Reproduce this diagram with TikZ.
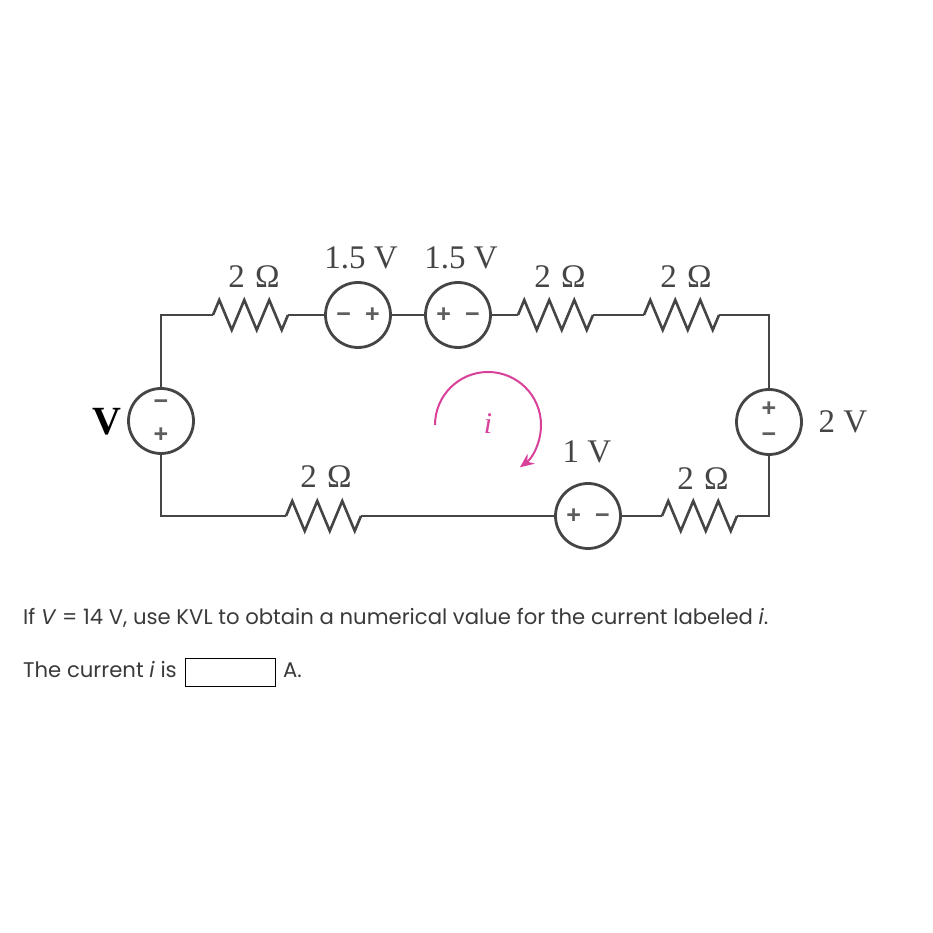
\documentclass[tikz,border=0pt]{standalone}
\usepackage{fontspec}
\setmainfont{Poppins}
\newfontfamily\cktfont{Liberation Serif}
\newfontfamily\signfont{Liberation Sans}
\usetikzlibrary{arrows.meta,decorations.pathmorphing,positioning}
\definecolor{wirecol}{HTML}{454545}
\definecolor{signcol}{HTML}{5E5E5E}
\definecolor{loopcol}{HTML}{D9409A}
\definecolor{textcol}{HTML}{3A3A3A}
\newcommand{\sgn}[1]{{\color{signcol}\signfont\bfseries\fontsize{25}{25}\selectfont #1}}
\begin{document}
\begin{tikzpicture}
    [x=1pt,y=1pt,
    source/.style={circle, draw=wirecol, line width=2.8pt, minimum size=65pt,
    inner sep=0pt, align=center, fill=white},
    wire/.style={draw=wirecol, line width=2.4pt},
    res/.style={draw=wirecol, line width=2.6pt, decorate,
    decoration={zigzag, segment length=25pt, amplitude=15pt}},
    val/.style={font=\cktfont\fontsize{33}{33}\selectfont, text=wirecol, inner sep=0pt},
    question/.style={font=\fontsize{21.2}{25}\selectfont, text=textcol, inner sep=0pt, anchor=base west}]

    \useasboundingbox (0,0) rectangle (933,933);

    % sources
    \node [source] (src_v) at (161,512) {\sgn{−}\\[18pt]\sgn{+}};
    \node [source] (src_a) at (358,618) {\sgn{−}\hspace{14pt}\sgn{+}};
    \node [source] (src_b) at (458,618) {\sgn{+}\hspace{14pt}\sgn{−}};
    \node [source] (src_c) at (588,417) {\sgn{+}\hspace{14pt}\sgn{−}};
    \node [source] (src_d) at (769,511) {\sgn{+}\\[14pt]\sgn{−}};

    % resistor ends
    \coordinate (res_a1) at (213,618);
    \coordinate (res_a2) at (288,618);
    \coordinate (res_b1) at (518,618);
    \coordinate (res_b2) at (593,618);
    \coordinate (res_c1) at (644,618);
    \coordinate (res_c2) at (719,618);
    \coordinate (res_d1) at (662,417);
    \coordinate (res_d2) at (737,417);
    \coordinate (res_e1) at (286,417);
    \coordinate (res_e2) at (361,417);

    \path [res] (res_a1) -- (res_a2);
    \path [res] (res_b1) -- (res_b2);
    \path [res] (res_c1) -- (res_c2);
    \path [res] (res_d1) -- (res_d2);
    \path [res] (res_e1) -- (res_e2);

    \begin{scope}[every path/.style=wire]
        \path (src_v.north) |- (res_a1);
        \path (res_a2) -- (src_a.west);
        \path (src_a.east) -- (src_b.west);
        \path (src_b.east) -- (res_b1);
        \path (res_b2) -- (res_c1);
        \path (res_c2) -| (src_d.north);
        \path (src_d.south) |- (res_d2);
        \path (res_d1) -- (src_c.east);
        \path (src_c.west) -- (res_e2);
        \path (res_e1) -| (src_v.south);
    \end{scope}

    % values
    \node [val] (val_a) at (254,656) {2 $\,$\kern-2pt Ω};
    \node [val] (val_b) at (361,675) {1.5 V};
    \node [val] (val_c) at (461,675) {1.5 V};
    \node [val] (val_d) at (560,656) {2 $\,$\kern-2pt Ω};
    \node [val] (val_e) at (686,656) {2 $\,$\kern-2pt Ω};
    \node [val] (val_f) at (326,456) {2 $\,$\kern-2pt Ω};
    \node [val] (val_g) at (587,481) {1 V};
    \node [val] (val_h) at (703,454) {2 $\,$\kern-2pt Ω};
    \node [val] (val_i) at (843,511) {2 V};
    \node [val, font=\cktfont\bfseries\fontsize{40}{40}\selectfont, text=black] (val_v) at (107,511) {V};

    % loop current
    \coordinate (loop_start) at (435,508);
    \draw [draw=loopcol, line width=2pt, -{Stealth[length=14pt,width=12pt]}]
        (loop_start) arc [start angle=180, end angle=-53, radius=53pt];
    \node [font=\cktfont\itshape\fontsize{30}{30}\selectfont, text=loopcol, inner sep=0pt] (loop_i) at (488,509) {i};

    % question
    \node [question] (q_line) at (23,308) {If \textit{V} = 14 V, use KVL to obtain a numerical value for the current labeled \textit{i}.};
    \node [question] (q_ans) at (23,255) {The current \textit{i} is};
    \node [draw=black, line width=1.2pt, minimum width=90pt, minimum height=28pt, inner sep=0pt,
        anchor=south west] (q_box) at (185,246) {};
    \node [question] (q_unit) at (283,255) {A.};
\end{tikzpicture}
\end{document}
